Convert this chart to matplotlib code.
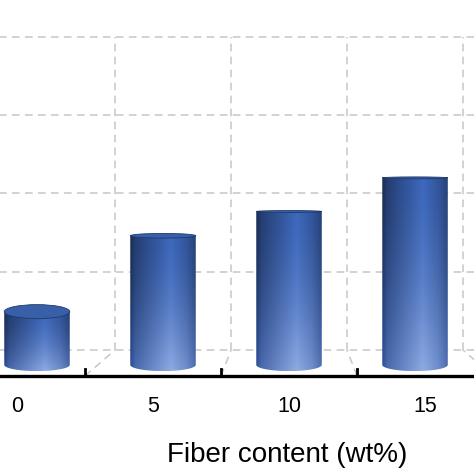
#!/usr/bin/env python3
import numpy as np
import matplotlib
matplotlib.use("Agg")
import matplotlib.pyplot as plt
from matplotlib.patches import Polygon, Ellipse

plt.rcParams['font.family'] = ['Liberation Sans', 'DejaVu Sans']

# Data (bar heights in gridline units, y axis itself is cropped away)
fiber_content = ["0", "5", "10", "15"]
values = [0.49, 1.46, 1.77, 2.20]
grid_levels = [0, 1, 2, 3, 4]

# pseudo-3D settings
BAR_W = 0.52
BASE = -0.19          # floor level at the depth of the bars
FRONT_Y = -0.332      # front edge of the floor (axis line)
FRONT_S, BACK_S, VP = 1.08, 0.92, 2.0
EYE = 1.94


def front(x):
    return VP + (x - VP) * FRONT_S


def back(x):
    return VP + (x - VP) * BACK_S


def cyl_image(n=200):
    # horizontal shading: dark left edge, highlight right of centre
    u = np.linspace(0, 1, n)
    b = np.interp(u, [0, 0.08, 0.35, 0.62, 0.85, 1.0], [0.0, 0.3, 0.65, 1.0, 0.7, 0.35])
    t = np.linspace(0, 1, n)[:, None]  # 0 = top, 1 = bottom
    dark_top = np.array([0.10, 0.17, 0.32])
    mid_top = np.array([0.24, 0.41, 0.74])
    dark_bot = np.array([0.17, 0.31, 0.60])
    light_bot = np.array([0.56, 0.67, 0.89])
    top = dark_top + (mid_top - dark_top) * b[:, None]
    bot = dark_bot + (light_bot - dark_bot) * b[:, None]
    w = (t ** 1.6)[..., None]
    img = top[None, :, :] * (1 - w) + bot[None, :, :] * w
    return np.clip(img, 0, 1)


fig = plt.figure(figsize=(4.74, 4.74), dpi=100)
ax = fig.add_axes([0, 0, 1, 1])
ax.set_xlim(-0.2937, 3.468)
ax.set_ylim(-1.585, 4.473)
ax.axis("off")

grid_kw = dict(color="#c6c6c6", linestyle=(0, (5, 3.5)), linewidth=1.1, zorder=1)

# back wall gridlines
for g in grid_levels:
    ax.plot([-0.3, 3.5], [g, g], **grid_kw)
for i in range(len(fiber_content)):
    xb = back(i + 0.5)
    ax.plot([xb, xb], [grid_levels[0], grid_levels[-1]], **grid_kw)
    ax.plot([front(i + 0.5), xb], [FRONT_Y, 0], **grid_kw)

# cylinders
img = cyl_image()
for i, v in enumerate(values):
    x0, x1 = i - BAR_W / 2, i + BAR_W / 2
    r = BAR_W / 2
    hb = 0.08
    ht = max(0.012, 0.062 * (EYE - v))
    th = np.linspace(np.pi, 2 * np.pi, 60)
    pts = [(x0, v)] + [(i + r * np.cos(a), BASE + hb * np.sin(a)) for a in th] + [(x1, v)]
    clip = Polygon(pts, closed=True, facecolor="none", edgecolor="none")
    ax.add_patch(clip)
    im = ax.imshow(img, extent=[x0, x1, BASE - hb, v], aspect="auto",
                   interpolation="bilinear", zorder=3)
    im.set_clip_path(clip)
    ax.add_patch(Ellipse((i, v), BAR_W, 2 * ht, facecolor="#3760a8",
                         edgecolor="#22396a", linewidth=0.6, zorder=4))

# front axis line and ticks
ax.plot([-0.3, 3.5], [FRONT_Y, FRONT_Y], color="black", linewidth=2.4,
        solid_capstyle="butt", zorder=5)
for i in range(len(fiber_content) - 1):
    xt = front(i + 0.5)
    ax.plot([xt, xt], [FRONT_Y, FRONT_Y + 0.09], color="black", linewidth=2.0, zorder=5)

for i, lab in enumerate(fiber_content):
    ax.text(front(i), -0.716, lab, ha="center", va="center", fontsize=15.5)

ax.text(1.984, -1.342, "Fiber content (wt%)", ha="center", va="center", fontsize=20)

plt.savefig("out.png", dpi=100)
